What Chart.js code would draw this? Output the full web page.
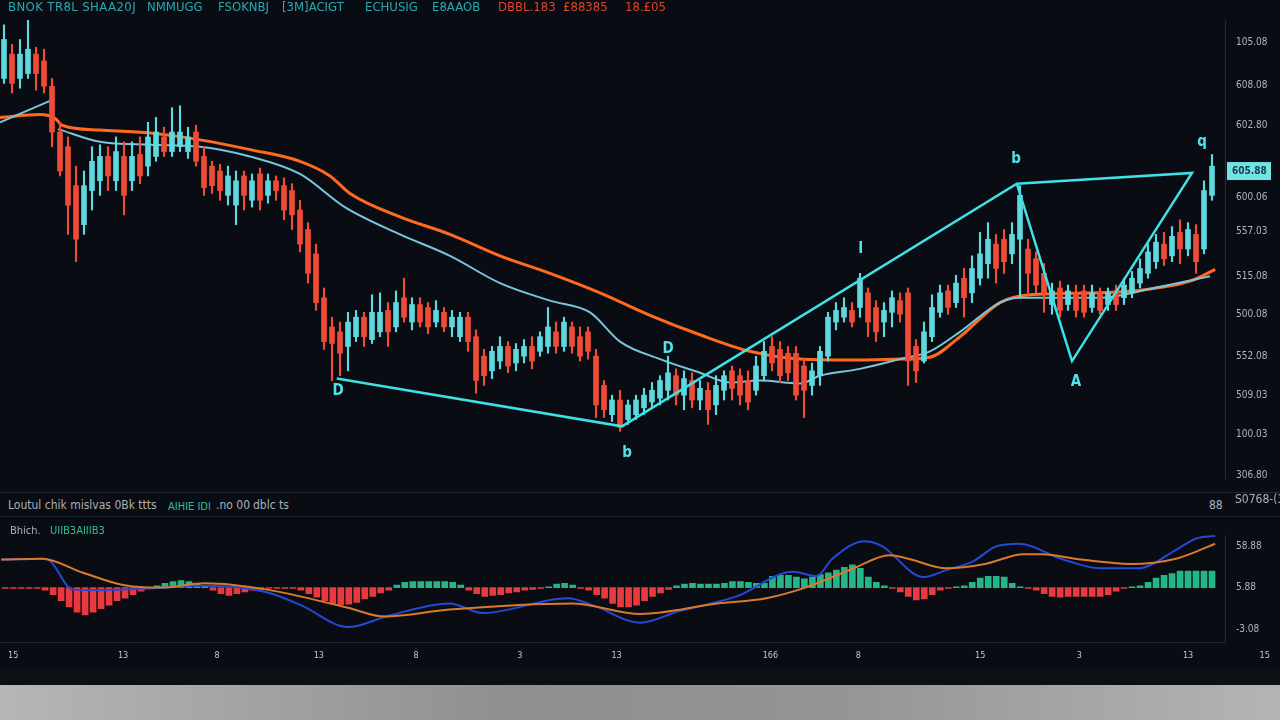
<!DOCTYPE html>
<html>
<head>
<meta charset="utf-8">
<script src="https://cdn.jsdelivr.net/npm/chart.js@4.4.1/dist/chart.umd.min.js"></script>
<style>
  body { margin:0; width:1280px; height:720px; overflow:hidden; position:relative; background:#090d13;
         font-family:"DejaVu Sans Condensed","DejaVu Sans",sans-serif; }
  canvas { position:absolute; left:0; }
  #main { top:0; }
  #macd { top:518px; }
  .t { position:absolute; white-space:nowrap; font-size:14px; line-height:15px; }
  .teal { color:#2aa9b0; font-size:13px; }
  .red { color:#e0452b; font-size:13px; }
  .grey { color:#aab1b9; font-size:12px; }
  .green { color:#2fbf8f; font-size:11px; }
  .hr { position:absolute; left:0; width:1280px; height:1px; }
  #band { position:absolute; left:0; top:685px; width:1280px; height:35px;
          background:linear-gradient(90deg,#b6b6b6 0%,#8f8f8f 40%,#949494 65%,#b4b4b4 100%); }
  #foot { position:absolute; left:0; top:668px; width:1280px; height:17px; background:#0c1016; }
</style>
</head>
<body>
<canvas id="main" width="1280" height="495"></canvas>
<div class="hr" style="top:492px;background:#1e252e"></div>
<div class="hr" style="top:516px;background:#1a2129"></div>
<canvas id="macd" width="1280" height="150"></canvas>
<div id="foot"></div>
<div id="band"></div>

<div class="t teal" style="left:8px;top:-1px;letter-spacing:0.4px">BNOK TR8L SHAA20J</div>
<div class="t teal" style="left:147px;top:-1px">NMMUGG</div>
<div class="t teal" style="left:218px;top:-1px">FSOKNBJ</div>
<div class="t teal" style="left:282px;top:-1px">[3M]ACIGT</div>
<div class="t teal" style="left:365px;top:-1px">ECHUSIG</div>
<div class="t teal" style="left:432px;top:-1px">E8AAOB</div>
<div class="t red" style="left:498px;top:-1px">DBBL.183</div>
<div class="t red" style="left:563px;top:-1px">£88385</div>
<div class="t red" style="left:625px;top:-1px">18.£05</div>

<div class="t grey" style="left:8px;top:498px">Loutul chik mislvas 0Bk ttts</div>
<div class="t green" style="left:168px;top:499px">AIHIE IDI</div>
<div class="t grey" style="left:216px;top:498px">.no 00</div>
<div class="t grey" style="left:253px;top:498px">dblc ts</div>
<div class="t grey" style="left:1209px;top:498px">88</div>
<div class="t grey" style="left:1235px;top:492px">S0768-(3</div>
<div class="t grey" style="left:10px;top:523px;font-size:11px">Bhich.</div>
<div class="t green" style="left:50px;top:523px">UIIB3AIIIB3</div>

<script>
// candles, index 0..151, price units
const candleOpen = [
  410,435,410,415,435,428,402,355,340,300, 260,295,305,330,305,330,305,332,320,330,
  350,335,340,335,355,330,320,315,290,280, 310,285,312,290,305,300,295,275,255,230,
  185,155,150,135,145,165,142,150,172,155, 185,160,178,175,160,170,155,145,165,145,
  125,110,120,135,118,125,135,130,135,150, 135,155,145,150,125,95,65,80,60,65,
  72,78,82,90,105,85,100,80,90,75, 90,110,105,100,90,105,135,132,128,128,
  115,95,105,125,160,165,172,175,190,175, 160,170,182,190,135,120,145,170,192,180,
  205,190,205,220,240,245,230,245,235,225, 210,178,195,178,190,192,175,190,178,192,
  185,190,200,210,222,240,228,252,235,250, 235,290];
const candleClose = [
  450,405,435,440,415,402,355,315,280,245, 300,325,330,310,335,290,330,310,350,355,
  335,355,355,350,325,298,300,295,310,305, 290,305,285,305,295,275,270,240,210,180,
  140,138,128,160,165,145,170,170,150,180, 165,178,160,155,172,155,165,165,140,100,
  105,130,135,115,132,135,120,145,155,135, 160,135,125,130,75,70,80,52,75,80,
  85,90,100,108,85,102,80,92,70,95, 105,92,85,78,115,130,118,105,108,85,
  90,110,130,165,172,175,160,205,160,150, 172,185,168,120,110,150,175,190,175,200,
  185,215,230,245,215,222,250,290,210,198, 190,192,172,192,172,170,190,172,190,178,
  198,205,215,232,242,225,248,235,255,222, 295,320];
const candleHigh = [
  465,445,450,470,442,440,410,365,350,320, 315,340,342,340,350,345,345,350,365,370,
  360,380,382,360,362,340,325,322,320,315, 315,312,318,312,310,308,302,285,262,240,
  195,165,160,170,172,170,188,190,180,192, 205,185,185,180,182,175,172,170,170,152,
  132,135,145,140,138,142,145,150,175,160, 165,160,155,155,132,100,85,90,80,85,
  92,98,105,125,112,110,108,100,98,105, 110,115,112,110,125,140,145,140,135,135,
  122,118,135,170,180,185,180,210,195,182, 180,192,190,195,142,160,188,198,198,208,
  215,228,252,262,250,255,262,300,245,232, 220,200,202,198,198,198,198,195,195,198,
  205,212,225,240,250,252,258,265,262,260, 305,332];
const candleLow = [
  405,395,400,410,398,395,340,310,250,222, 250,275,290,295,295,270,295,302,310,325,
  330,330,335,328,320,290,292,285,280,260, 275,278,275,282,285,265,255,232,200,172,
  132,100,105,110,140,135,138,145,135,150, 160,152,155,148,155,150,145,140,130,87,
  95,102,112,108,110,118,112,125,128,128, 130,128,120,122,62,62,58,48,55,60,
  65,72,75,80,75,70,72,70,55,65, 80,80,75,70,85,100,110,98,100,80,
  62,85,95,120,152,160,155,165,145,140, 145,155,160,95,98,118,140,165,168,175,
  165,180,198,205,200,210,220,185,190,190, 170,168,165,172,165,165,170,168,172,172,
  178,185,195,205,215,218,222,220,228,210, 230,285];

// moving averages (index, price)
const slowX = [-0.5,4.5,6.4,7.25,12,18.25,24.5,30.75,37,40.75,43.25,49.5,55.75,62,68.25,74.5,80.75,87,93.25,99.5,105.75,112,115.75,119.5,124.5,128.25,137,143.25,148.25,151.4];
const slowY = [370,373,369,362,357,354,347,337,325,310,292,268,250,228,210,190,167,147,130,122,121,122,124,145,180,188,190,194,202,214];
const fastX = [-0.5,5.75,6.2,6.75,12,18.25,24.5,30.75,37,42.6,49.5,55.75,62,68.25,73.25,77,82,87,90.75,94.5,99.5,102,107,112,115.75,119.5,124.5,127,132,137,143.25,150.75];
const fastY = [365,387,null,358,345,342,340,330,312,278,250,228,200,182,170,140,122,108,98,100,97,105,112,122,130,150,180,185,185,185,194,207];

// harmonic pattern
const patX = [41.6,77.25,126.6,148.5,133.5,126.6];
const patY = [102,53,302,313,120,302];
const labX = [41.75,77.9,83,107.1,126.5,134,149.75];
const labY = [89,26,132,235,327,98,345];
const labText = ['D','b','D','I','b','A','q'];

// price axis
const priceTicks = [447,403,362,288,253,207,168,125,85,45,3];
const priceLabels = ['105.08','608.08','602.80','600.06','557.03','515.08','500.08','552.08','509.03','100.03','306.80'];
const tagValue = 315;
const tagText = '605.88';

// MACD panel
const macdHist = [
  -1,-1,-1,-1,-1,-3,-8,-15,-22,-28, -31,-28,-24,-20,-15,-12,-8,-4,-1,2,
  5,7,8,7,5,2,-3,-7,-9,-7, -5,-3,-2,-1,-1,-1,-1,-3,-7,-11,
  -15,-18,-20,-19,-17,-13,-10,-6,-3,3, 6,7,7,7,7,7,6,3,-3,-7,
  -10,-9,-8,-6,-5,-3,-2,-1,1,4, 5,3,-1,-3,-8,-12,-18,-22,-22,-20,
  -15,-10,-6,-2,2,4,5,4,4,4, 5,7,7,6,5,5,13,14,14,12,
  10,12,15,17,20,23,26,22,12,6, 2,-1,-5,-10,-14,-13,-8,-3,-1,1,
  2,6,11,13,13,12,5,1,-1,-3, -7,-10,-11,-10,-10,-10,-10,-10,-8,-4,
  -1,1,2,6,11,14,16,19,19,19, 19,19];
const macdX = [-0.5,4.6,5.4,8.4,12,18,25,32.6,37,42.9,48,55.6,59.75,70.4,73.5,79.5,84.25,91.5,98.6,101.5,103.5,107.5,109.6,114.9,117.75,121.1,124,126.9,132.1,137,141.75,146.5,149,151.4];
const macdY = [32,33,32,-2,-3,-1,2,-5,-20,-45,-32,-18,-29,-12,-20,-40,-27,-10,18,13,33,53,48,12,20,30,47,50,33,22,22,43,56,59];
const signalX = [-0.5,4.6,9.75,14.75,19.4,25,32.6,42.9,47.5,55.6,70.9,79.5,89.1,95.25,100.1,106.4,110.6,113,117.75,122.6,127.4,129.75,134.6,140.75,146.5,151.4];
const signalY = [32,33,17,3,0,5,-2,-23,-33,-25,-18,-30,-18,-12,0,23,37,33,22,27,38,38,32,27,33,50];
const macdTicks = [47,0,-48];
const macdLabels = ['58.88','5.88','-3.08'];

// time axis
const timeTicks = [1,14.75,26.5,39.25,51.4,64.4,76.5,95.75,106.75,122,134.4,148,157.6];
const timeLabels = ['15','13','8','13','8','3','13','166','8','15','3','13','15'];

const xMin = -0.5, xMax = 152.625;
const fontFam = '"DejaVu Sans Condensed","DejaVu Sans",sans-serif';
const upColor = '#5fd9dd', downColor = '#ef4b37';
const candleColors = candleOpen.map((o, i) => candleClose[i] >= o ? upColor : downColor);
const toPoints = (xs, ys) => xs.map((x, i) => ({x: x, y: ys[i]}));

const patternLabels = {
  id: 'patternLabels',
  afterDatasetsDraw(chart) {
    const {ctx, scales} = chart;
    ctx.save();
    ctx.fillStyle = '#4fe3ea';
    ctx.font = 'bold 15px ' + fontFam;
    ctx.textAlign = 'center';
    ctx.textBaseline = 'middle';
    labText.forEach((t, i) => {
      ctx.fillText(t, scales.x.getPixelForValue(labX[i]), scales.y.getPixelForValue(labY[i]));
    });
    ctx.restore();
  }
};

const priceTag = {
  id: 'priceTag',
  afterDraw(chart) {
    const {ctx, chartArea, scales} = chart;
    const y = scales.y.getPixelForValue(tagValue);
    ctx.save();
    ctx.fillStyle = '#74e2e4';
    ctx.fillRect(chartArea.right + 2, y - 9, 44, 18);
    ctx.fillStyle = '#12434a';
    ctx.font = 'bold 10px ' + fontFam;
    ctx.textBaseline = 'middle';
    ctx.fillText(tagText, chartArea.right + 7, y);
    ctx.restore();
  }
};

new Chart(document.getElementById('main'), {
  type: 'bar',
  data: {
    datasets: [
      {type: 'line', data: toPoints(slowX, slowY), borderColor: '#ff6a1e', borderWidth: 3,
       pointRadius: 0, cubicInterpolationMode: 'monotone', order: 4},
      {type: 'line', data: toPoints(fastX, fastY), borderColor: '#78c6dc', borderWidth: 2,
       pointRadius: 0, cubicInterpolationMode: 'monotone', order: 3},
      {data: candleLow.map((l, i) => ({x: i, y: [l, candleHigh[i]]})), backgroundColor: candleColors,
       barThickness: 1.5, grouped: false, order: 2},
      {data: candleOpen.map((o, i) => ({x: i, y: [o, candleClose[i]]})), backgroundColor: candleColors,
       barThickness: 5, grouped: false, order: 1},
      {type: 'line', data: toPoints(patX, patY), borderColor: '#3fe0e8', borderWidth: 2.5,
       pointRadius: 0, tension: 0, order: 0}
    ]
  },
  options: {
    responsive: false,
    animation: false,
    layout: {padding: {top: 20, bottom: 5, left: 0, right: 0}},
    plugins: {legend: {display: false}, tooltip: {enabled: false}},
    scales: {
      x: {type: 'linear', min: xMin, max: xMax, offset: false, display: false},
      y: {
        position: 'right', min: 0, max: 470,
        grid: {display: false, drawTicks: false},
        border: {display: true, color: '#262d36'},
        afterBuildTicks: s => { s.ticks = priceTicks.map(v => ({value: v})); },
        afterFit: s => { s.width = 55; },
        ticks: {color: '#aeb5bd', padding: 11, font: {size: 10, family: fontFam},
                callback: v => priceLabels[priceTicks.indexOf(v)]}
      }
    }
  },
  plugins: [patternLabels, priceTag]
});

new Chart(document.getElementById('macd'), {
  type: 'bar',
  data: {
    datasets: [
      {data: macdHist.map((v, i) => ({x: i, y: v})),
       backgroundColor: macdHist.map(v => v >= 0 ? '#22b585' : '#e8393e'),
       barThickness: 6, order: 3},
      {type: 'line', data: toPoints(macdX, macdY), borderColor: '#2449d4', borderWidth: 2,
       pointRadius: 0, cubicInterpolationMode: 'monotone', order: 2},
      {type: 'line', data: toPoints(signalX, signalY), borderColor: '#d97a2a', borderWidth: 2,
       pointRadius: 0, cubicInterpolationMode: 'monotone', order: 1}
    ]
  },
  options: {
    responsive: false,
    animation: false,
    layout: {padding: {top: 2, bottom: 0, left: 0, right: 0}},
    plugins: {legend: {display: false}, tooltip: {enabled: false}},
    scales: {
      x: {
        type: 'linear', min: xMin, max: xMax, offset: false,
        grid: {display: false, drawTicks: false},
        border: {display: true, color: '#1f262e'},
        afterBuildTicks: s => { s.ticks = timeTicks.map(v => ({value: v})); },
        afterFit: s => { s.height = 26; },
        ticks: {autoSkip: false, maxRotation: 0, padding: 8, color: '#c3c8ce',
                font: {size: 9, family: fontFam},
                callback: v => timeLabels[timeTicks.indexOf(v)]}
      },
      y: {
        position: 'right', min: -62, max: 60,
        grid: {display: false, drawTicks: false},
        border: {display: true, color: '#262d36'},
        afterBuildTicks: s => { s.ticks = macdTicks.map(v => ({value: v})); },
        afterFit: s => { s.width = 55; },
        ticks: {color: '#aeb5bd', padding: 11, font: {size: 10, family: fontFam},
                callback: v => macdLabels[macdTicks.indexOf(v)]}
      }
    }
  }
});
</script>
</body>
</html>
